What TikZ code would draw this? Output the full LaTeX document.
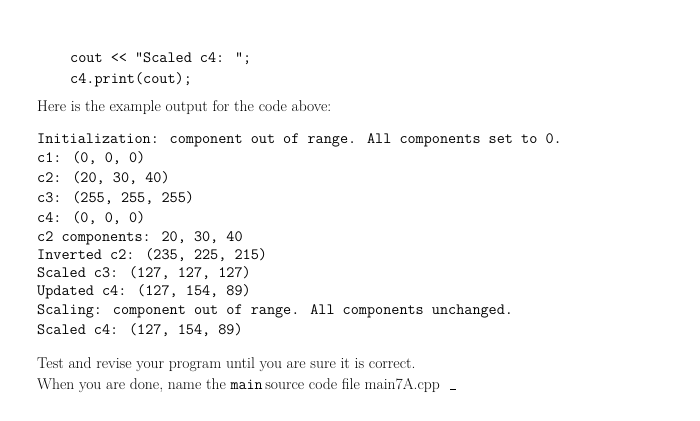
\documentclass[tikz,border=0pt]{standalone}
\begin{document}
\begin{tikzpicture}[x=1pt,y=-1pt,
  tl/.style={anchor=base west,inner sep=0pt,font=\fontsize{15.75}{18}\selectfont\ttfamily},
  rl/.style={anchor=base west,inner sep=0pt,font=\fontsize{15.6}{18}\selectfont}]
\useasboundingbox (0,0) rectangle (700,420);
\node[tl] (a1) at (70,62) {cout << "Scaled c4: ";};
\node[tl] (a2) at (70,83) {c4.print(cout);};
\node[rl] (h) at (37,111) {Here is the example output for the code above:};
\node[tl] (o1) at (37,143) {Initialization: component out of range. All components set to 0.};
\node[tl] (o2) at (37,162) {c1: (0, 0, 0)};
\node[tl] (o3) at (37,182) {c2: (20, 30, 40)};
\node[tl] (o4) at (37,202) {c3: (255, 255, 255)};
\node[tl] (o5) at (37,222) {c4: (0, 0, 0)};
\node[tl] (o6) at (37,241) {c2 components: 20, 30, 40};
\node[tl] (o7) at (37,259) {Inverted c2: (235, 225, 215)};
\node[tl] (o8) at (37,277) {Scaled c3: (127, 127, 127)};
\node[tl] (o9) at (37,295) {Updated c4: (127, 154, 89)};
\node[tl] (o10) at (37,314) {Scaling: component out of range. All components unchanged.};
\node[tl] (o11) at (37,334) {Scaled c4: (127, 154, 89)};
\node[rl] (t1) at (37,368) {Test and revise your program until you are sure it is correct.};
\node[rl] (t2) at (37,389) {When you are done, name the \texttt{main}\,source code file main7A.cpp};
\draw (t2.base east) ++(10,0) coordinate (d1) -- ++(6,0) coordinate (d2);
\end{tikzpicture}
\end{document}
